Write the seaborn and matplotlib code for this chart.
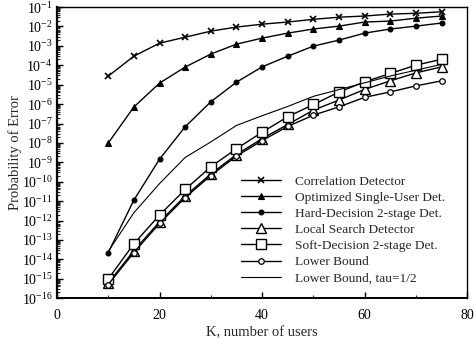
import numpy as np
import pandas as pd
import matplotlib
matplotlib.use("Agg")
import matplotlib.pyplot as plt
from matplotlib.ticker import LogLocator, NullFormatter, MultipleLocator
import seaborn as sns

# ---- data (log10 of probability of error) ----
users = [10, 15, 20, 25, 30, 35, 40, 45, 50, 55, 60, 65, 70, 75]
correlation_log = [-4.56, -3.53, -2.86, -2.55, -2.24, -2.03, -1.88, -1.77, -1.63, -1.52, -1.46, -1.36, -1.32, -1.24]
optimized_log = [-8.01, -6.15, -4.92, -4.09, -3.42, -2.91, -2.60, -2.34, -2.13, -1.98, -1.77, -1.72, -1.57, -1.46]
hard_log = [-13.66, -10.95, -8.84, -7.17, -5.88, -4.87, -4.08, -3.53, -3.01, -2.70, -2.34, -2.13, -1.98, -1.82]
local_log = [-15.23, -13.56, -12.07, -10.74, -9.60, -8.60, -7.78, -7.05, -6.31, -5.79, -5.24, -4.80, -4.39, -4.08]
soft_log = [-15.02, -13.20, -11.72, -10.40, -9.23, -8.30, -7.45, -6.65, -6.02, -5.38, -4.85, -4.42, -3.99, -3.69]
lower_log = [-15.30, -13.65, -12.15, -10.82, -9.68, -8.68, -7.88, -7.15, -6.57, -6.14, -5.65, -5.37, -5.06, -4.80]
tau_log = [-13.60, -11.60, -10.10, -8.75, -7.95, -7.10, -6.60, -6.12, -5.60, -5.25, -4.90, -4.55, -4.25, -3.95]

series_names = [
    "Correlation Detector",
    "Optimized Single-User Det.",
    "Hard-Decision 2-stage Det.",
    "Local Search Detector",
    "Soft-Decision 2-stage Det.",
    "Lower Bound",
    "Lower Bound, tau=1/2",
]
series_values = [correlation_log, optimized_log, hard_log, local_log, soft_log, lower_log, tau_log]

xticks = [0, 20, 40, 60, 80]

frames = []
for name, vals in zip(series_names, series_values):
    frames.append(pd.DataFrame({"K": users, "P": np.power(10.0, vals), "series": name}))
df = pd.concat(frames, ignore_index=True)

# ---- style ----
sns.set_style("ticks")
plt.rcParams["font.family"] = ["Liberation Serif", "DejaVu Serif"]
plt.rcParams["mathtext.fontset"] = "custom"
plt.rcParams["mathtext.rm"] = "Liberation Serif"
plt.rcParams["mathtext.it"] = "Liberation Serif:italic"
plt.rcParams["mathtext.bf"] = "Liberation Serif:bold"

fig = plt.figure(figsize=(4.74, 3.38), dpi=100)
ax = fig.add_axes([0.120, 0.118, 0.866, 0.861])

styles = {
    "Correlation Detector": dict(marker="x", markersize=4.5, mfc="black", mew=1.2, lw=1.0),
    "Optimized Single-User Det.": dict(marker="^", markersize=4.5, mfc="black", mew=0.8, lw=1.0),
    "Hard-Decision 2-stage Det.": dict(marker="o", markersize=3.5, mfc="black", mew=0.8, lw=1.0),
    "Local Search Detector": dict(marker="^", markersize=7.5, mfc="white", mew=1.0, lw=1.0),
    "Soft-Decision 2-stage Det.": dict(marker="s", markersize=7, mfc="white", mew=1.0, lw=1.0),
    "Lower Bound": dict(marker="o", markersize=4, mfc="white", mew=0.9, lw=1.0),
    "Lower Bound, tau=1/2": dict(marker=None, lw=0.8),
}

for name in series_names:
    sub = df[df["series"] == name]
    st = styles[name]
    sns.lineplot(data=sub, x="K", y="P", ax=ax, color="black", label=name,
                 marker=st.get("marker"), markersize=st.get("markersize", 0),
                 markerfacecolor=st.get("mfc", "black"), markeredgecolor="black",
                 markeredgewidth=st.get("mew", 1.0), linewidth=st["lw"],
                 estimator=None, sort=False)

ax.set_yscale("log")
ax.set_xlim(0, 80)
ax.set_ylim(1e-16, 1e-1)
ax.set_xticks(xticks)
ax.xaxis.set_minor_locator(MultipleLocator(10))
ax.yaxis.set_major_locator(LogLocator(base=10, numticks=30))
ax.yaxis.set_minor_locator(LogLocator(base=10, subs=np.arange(2, 10), numticks=200))
ax.yaxis.set_minor_formatter(NullFormatter())

ax.tick_params(axis="both", which="major", direction="in", length=4, width=1.0,
               labelsize=10, top=False, right=False, colors="black")
ax.tick_params(axis="both", which="minor", direction="in", length=2, width=0.8,
               top=False, right=False)
ax.tick_params(axis="y", which="major", pad=3)
ax.tick_params(axis="x", which="major", pad=8)

for sp in ax.spines.values():
    sp.set_visible(True)
    sp.set_color("black")
    sp.set_linewidth(1.0)
ax.spines["left"].set_linewidth(1.6)
ax.spines["bottom"].set_linewidth(1.4)

ax.set_xlabel("K, number of users", fontsize=10.5, labelpad=3)
ax.set_ylabel("Probability of Error", fontsize=10.5, labelpad=0)

leg = ax.legend(loc="lower right", bbox_to_anchor=(0.965, 0.02), frameon=False,
                fontsize=9.6, handlelength=3.0, handletextpad=1.05, labelspacing=0.28,
                borderaxespad=0.2)

fig.savefig("out.png", dpi=100)
